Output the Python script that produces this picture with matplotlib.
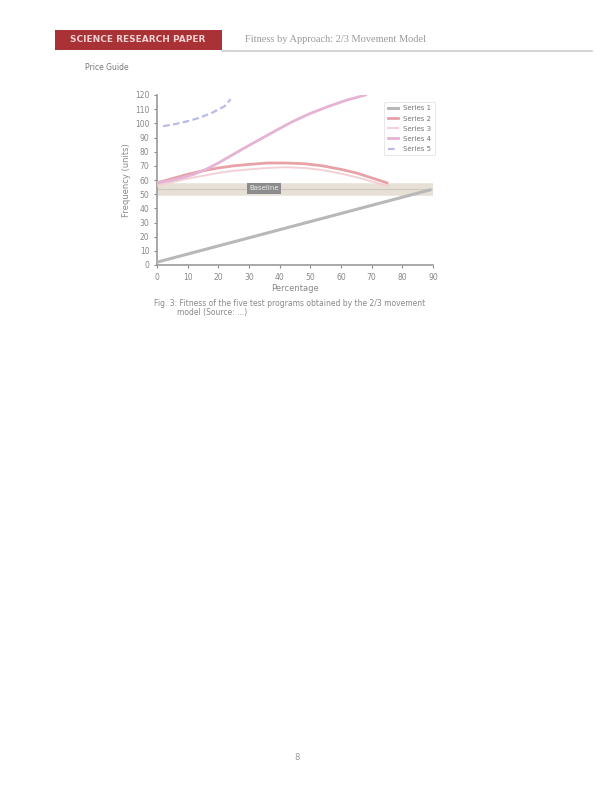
import matplotlib
matplotlib.use("Agg")
import matplotlib.pyplot as plt
from matplotlib.patches import Rectangle
from matplotlib.lines import Line2D

# ---- data ----
x_ticks = [0, 10, 20, 30, 40, 50, 60, 70, 80, 90]
y_ticks = [0, 10, 20, 30, 40, 50, 60, 70, 80, 90, 100, 110, 120]

gray_x = [0, 89]
gray_y = [2, 53]

band_x = [0, 90]
band_y = [54, 54]

red_x = [0, 5, 10, 15, 20, 25, 30, 36, 42, 48, 54, 60, 65, 70, 75]
red_y = [58, 61, 64, 66.5, 68.5, 70, 71, 72, 72, 71.5, 70, 67.5, 65, 61.5, 58]

pink_x = [0, 5, 10, 15, 20, 25, 30, 36, 42, 48, 54, 60, 65, 70, 75]
pink_y = [56, 58.5, 61, 63, 65, 66.5, 67.5, 68.5, 69, 68.5, 67, 64.5, 62, 59, 56]

magenta_x = [0, 4, 8, 12, 16, 20, 24, 28, 33, 38, 44, 50, 56, 62, 68]
magenta_y = [58, 59.5, 61.5, 64, 67.5, 72, 77, 82, 88, 94, 101, 107, 112, 116.5, 120]

blue_x = [2, 6, 10, 14, 18, 22, 24]
blue_y = [98, 99.5, 101.5, 104, 107.5, 112, 117]

legend_labels = ["Series 1", "Series 2", "Series 3", "Series 4", "Series 5"]
band_label = "Baseline"

W, H = 612, 792
fig = plt.figure(figsize=(W / 100, H / 100), dpi=100)

def fx(px):
    return px / W

def fy(py):
    return 1 - py / H

# header
fig.patches.append(Rectangle((fx(55), fy(50)), fx(222) - fx(55), fy(30) - fy(50),
                             transform=fig.transFigure, facecolor="#a83236",
                             edgecolor="none", zorder=1))
fig.text(fx(138), fy(40), "SCIENCE RESEARCH PAPER", color="#f2d0d0", fontsize=6.5,
         ha="center", va="center", fontweight="bold")
fig.text(fx(245), fy(40), "Fitness by Approach: 2/3 Movement Model", color="#9a9a9a",
         fontsize=7.5, ha="left", va="center", family="Liberation Serif")
fig.lines.append(Line2D([fx(222), fx(592)], [fy(51), fy(51)], transform=fig.transFigure,
                        color="#cccccc", linewidth=1.2))

fig.text(fx(85), fy(67), "Price Guide", color="#777777", fontsize=5.5, ha="left", va="center")

# axes
ax = fig.add_axes([fx(157), fy(265), fx(433) - fx(157), fy(95) - fy(265)])
ax.set_xlim(0, 90)
ax.set_ylim(0, 120)

ax.plot(gray_x, gray_y, color="#b8b8b8", linewidth=2.2, label=legend_labels[0], zorder=3)
ax.plot(band_x, band_y, color="#e6e0d6", linewidth=9, solid_capstyle="round", zorder=2)
ax.plot(band_x, band_y, color="#d0c8bc", linewidth=0.8, zorder=2)
ax.plot(red_x, red_y, color="#e7a2a8", linewidth=2.0, label=legend_labels[1], zorder=3)
ax.plot(pink_x, pink_y, color="#f3d0d6", linewidth=1.4, label=legend_labels[2], zorder=3)
ax.plot(magenta_x, magenta_y, color="#e5b3d3", linewidth=2.0, label=legend_labels[3], zorder=3)
ax.plot(blue_x, blue_y, color="#b9bbe8", linewidth=1.6, linestyle=(0, (3, 1.5)),
        label=legend_labels[4], zorder=3)

ax.text(35, 54, band_label, ha="center", va="center", fontsize=5, color="#eeeeee",
        bbox=dict(boxstyle="square,pad=0.3", facecolor="#8c8c8c", edgecolor="none"), zorder=4)

for s in ["top", "right"]:
    ax.spines[s].set_visible(False)
for s in ["left", "bottom"]:
    ax.spines[s].set_color("#9a9a9a")
    ax.spines[s].set_linewidth(1.2)
ax.set_xticks(x_ticks)
ax.set_yticks(y_ticks)
ax.tick_params(colors="#888888", labelsize=5.5, length=2)
ax.set_xlabel("Percentage", fontsize=6, color="#888888", labelpad=2)
ax.set_ylabel("Frequency (units)", fontsize=6, color="#888888", labelpad=3)

leg = ax.legend(loc="upper left", bbox_to_anchor=(0.81, 0.98), fontsize=5, frameon=True,
                handlelength=1.5, labelspacing=0.6, borderpad=0.5)
leg.get_frame().set_edgecolor("#dddddd")
leg.get_frame().set_linewidth(0.6)
for t in leg.get_texts():
    t.set_color("#777777")

# caption
fig.text(fx(290), fy(303), "Fig. 3: Fitness of the five test programs obtained by the 2/3 movement",
         fontsize=5.5, color="#888888", ha="center", va="center")
fig.text(fx(212), fy(313), "model (Source: ...)", fontsize=5.5, color="#888888",
         ha="center", va="center")

fig.text(fx(297), fy(758), "8", fontsize=6, color="#999999", ha="center", va="center")

fig.savefig("out.png", dpi=100)
